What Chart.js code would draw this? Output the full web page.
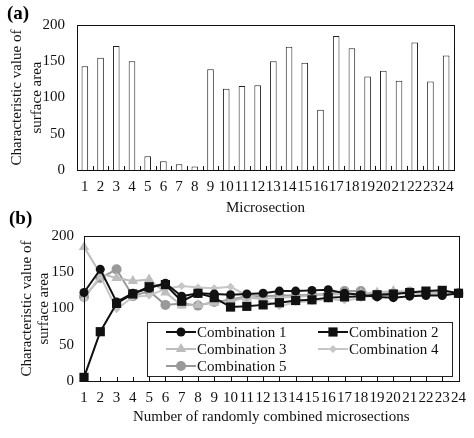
<!DOCTYPE html>
<html>
<head>
<meta charset="utf-8">
<script src="https://cdn.jsdelivr.net/npm/chart.js@4/dist/chart.umd.min.js"></script>
<style>
  html, body { margin: 0; padding: 0; background: #fff; }
  #wrap { position: relative; width: 474px; height: 438px; overflow: hidden; background:#fff; }
  canvas { position: absolute; left: 0; }
  #ca { top: 0; }
  #cb { top: 217px; }
  .tag { position: absolute; font-family: "Liberation Serif", serif; font-weight: bold; font-size: 19px; color: #000; }
</style>
</head>
<body>
<div id="wrap">
  <canvas id="ca" width="474" height="217"></canvas>
  <canvas id="cb" width="474" height="221"></canvas>
  <div class="tag" style="left:7px; top:2px;">(a)</div>
  <div class="tag" style="left:9px; top:207px;">(b)</div>
</div>
<script>
// ---- data ----
const microsections = ['1','2','3','4','5','6','7','8','9','10','11','12','13','14','15','16','17','18','19','20','21','22','23','24'];
const surfaceArea = [143,155,171,150,19,12,8,5,139,112,116,117,150,170,148,83,185,168,129,137,123,176,122,158];

const combinedCounts = ['1','2','3','4','5','6','7','8','9','10','11','12','13','14','15','16','17','18','19','20','21','22','23','24'];
const combination1 = [122,154,109,121,128,135,117,121,120,119,120,121,124,124,125,126,121,119,116,115,117,118,118,121];
const combination2 = [5,68,107,120,130,133,110,121,115,102,103,105,108,111,112,115,116,117,119,120,122,124,125,121];
const combination3 = [185,148,142,138,140,122,104,105,108,110,115,113,115,116,118,119,120,121,122,124,123,122,122,121];
const combination4 = [113,145,99,116,118,127,131,129,128,130,118,112,103,109,110,113,111,114,120,122,120,120,120,121];
const combination5 = [116,142,154,117,124,105,107,104,109,112,117,117,118,118,119,120,124,124,118,119,123,120,120,121];
const yTicks = [0,50,100,150,200];

const FONT = '"Liberation Serif", "Times New Roman", serif';

function boxAndTicks(mode) {
  return {
    id: 'boxTicks',
    afterDatasetsDraw(chart) {
      const {ctx, chartArea: a, scales} = chart;
      ctx.save();
      ctx.strokeStyle = '#111';
      ctx.lineWidth = 1;
      ctx.strokeRect(Math.round(a.left) + 0.5, Math.round(a.top) + 0.5, Math.round(a.right - a.left), Math.round(a.bottom - a.top));
      const xs = scales.x;
      ctx.beginPath();
      const n = xs.ticks.length;
      for (let i = 0; i < n; i++) {
        let px;
        if (mode === 'between') {
          if (i === n - 1) break;
          px = (xs.getPixelForTick(i) + xs.getPixelForTick(i + 1)) / 2;
        } else {
          px = xs.getPixelForTick(i);
        }
        px = Math.round(px) + 0.5;
        ctx.moveTo(px, a.bottom);
        ctx.lineTo(px, a.bottom - 4);
      }
      ctx.stroke();
      ctx.restore();
    }
  };
}

function yAxis(width, tickPad, titleLH, titlePad) {
  return {
    min: 0, max: 200,
    afterBuildTicks(s) { s.ticks = yTicks.map(v => ({value: v})); },
    afterFit(s) { s.width = width; },
    grid: { display: false, drawTicks: false },
    border: { display: false },
    ticks: { color: '#111', font: { family: FONT, size: 15 }, padding: tickPad },
    title: {
      display: true,
      text: ['Characteristic value of', 'surface area'],
      color: '#111',
      font: { family: FONT, size: 15, lineHeight: titleLH / 15 },
      padding: { top: titlePad, bottom: 0 }
    }
  };
}

// ---- chart (a) ----
new Chart(document.getElementById('ca'), {
  type: 'bar',
  data: {
    labels: microsections,
    datasets: [{
      data: surfaceArea,
      backgroundColor: '#fff',
      borderColor: '#222',
      borderWidth: 1,
      barPercentage: 0.42,
      categoryPercentage: 1
    }]
  },
  options: {
    responsive: false,
    animation: false,
    layout: { padding: { top: 25, right: 20, left: 0, bottom: 0 } },
    plugins: { legend: { display: false }, tooltip: { enabled: false } },
    scales: {
      x: {
        afterFit(s) { s.height = 47; },
        grid: { display: false, drawTicks: false },
        border: { display: false },
        ticks: { color: '#111', font: { family: FONT, size: 15 }, padding: 8, autoSkip: false, maxRotation: 0 },
        title: { display: true, text: 'Microsection', color: '#111', font: { family: FONT, size: 15 }, padding: { top: 0, bottom: 0 } }
      },
      y: yAxis(77, 12, 20, 7)
    }
  },
  plugins: [boxAndTicks('between')]
});

// ---- chart (b) ----
const legendPlugin = {
  id: 'innerLegend',
  afterDraw(chart) {
    const {ctx} = chart;
    const box = { l: 147, t: 105, r: 452, b: 159 }; // relative to canvas b
    ctx.save();
    ctx.fillStyle = '#fff';
    ctx.fillRect(box.l, box.t, box.r - box.l, box.b - box.t);
    ctx.strokeStyle = '#222';
    ctx.lineWidth = 1;
    ctx.strokeRect(box.l + 0.5, box.t + 0.5, box.r - box.l, box.b - box.t);
    const cols = [166, 318];
    const rows = [115, 132, 149];
    ctx.font = '15px ' + FONT;
    ctx.textBaseline = 'middle';
    chart.data.datasets.forEach((ds, i) => {
      const x0 = cols[i % 2], y = rows[Math.floor(i / 2)];
      ctx.strokeStyle = ds.borderColor;
      ctx.lineWidth = ds.borderWidth;
      ctx.beginPath();
      ctx.moveTo(x0, y); ctx.lineTo(x0 + 30, y);
      ctx.stroke();
      drawMarker(ctx, ds.pointStyle, x0 + 15, y, ds.pointRadius, ds.pointBackgroundColor);
      ctx.fillStyle = '#111';
      ctx.fillText(ds.label, x0 + 31, y + 1);
    });
    ctx.restore();
  }
};

function drawMarker(ctx, style, x, y, r, color) {
  ctx.save();
  ctx.fillStyle = color;
  ctx.beginPath();
  if (style === 'circle') {
    ctx.arc(x, y, r, 0, Math.PI * 2);
  } else if (style === 'rect') {
    const s = r * Math.SQRT1_2;
    ctx.rect(x - s, y - s, 2 * s, 2 * s);
  } else if (style === 'triangle') {
    ctx.moveTo(x, y - r);
    ctx.lineTo(x + r * 0.866, y + r * 0.5);
    ctx.lineTo(x - r * 0.866, y + r * 0.5);
    ctx.closePath();
  } else if (style === 'rectRot') {
    ctx.moveTo(x, y - r); ctx.lineTo(x + r, y); ctx.lineTo(x, y + r); ctx.lineTo(x - r, y); ctx.closePath();
  }
  ctx.fill();
  ctx.restore();
}

function series(label, data, color, style, radius, width) {
  return {
    label, data,
    borderColor: color,
    backgroundColor: color,
    pointBackgroundColor: color,
    pointBorderColor: color,
    pointBorderWidth: 0,
    pointStyle: style,
    pointRadius: radius,
    borderWidth: width,
    tension: 0,
    clip: false
  };
}

new Chart(document.getElementById('cb'), {
  type: 'line',
  data: {
    labels: combinedCounts,
    datasets: [
      series('Combination 1', combination1, '#111', 'circle', 4.5, 2),
      series('Combination 2', combination2, '#111', 'rect', 6.5, 2),
      series('Combination 3', combination3, '#bdbdbd', 'triangle', 6, 2),
      series('Combination 4', combination4, '#c6c6c6', 'rectRot', 4, 2),
      series('Combination 5', combination5, '#999', 'circle', 5, 2)
    ]
  },
  options: {
    responsive: false,
    animation: false,
    layout: { padding: { top: 16, right: 13, left: 0, bottom: 0 } },
    plugins: { legend: { display: false }, tooltip: { enabled: false } },
    scales: {
      x: {
        offset: false,
        afterFit(s) { s.height = 57; },
        grid: { display: false, drawTicks: false },
        border: { display: false },
        ticks: { color: '#111', font: { family: FONT, size: 15 }, padding: 8, autoSkip: false, maxRotation: 0 },
        title: { display: true, text: 'Number of randomly combined microsections', color: '#111', font: { family: FONT, size: 15 }, padding: { top: 0, bottom: 12 } }
      },
      y: yAxis(84, 10, 17, 18.5)
    }
  },
  plugins: [boxAndTicks('at'), legendPlugin]
});
</script>
</body>
</html>
